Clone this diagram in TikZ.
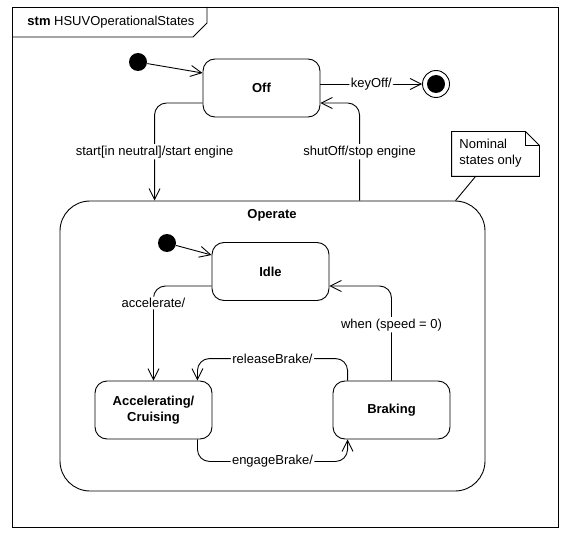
\documentclass[tikz,border=0pt]{standalone}
\usepackage{fontspec}
\setmainfont{Liberation Sans}
\usetikzlibrary{arrows.meta}
\begin{document}
\begin{tikzpicture}[x=1pt,y=-1pt,line width=0.9pt,
  every node/.style={font=\fontsize{13pt}{16pt}\selectfont},
  stbox/.style={draw, rounded corners=12pt, minimum width=117pt, minimum height=58pt,
    font=\fontsize{13pt}{16pt}\selectfont\bfseries, align=center, inner sep=0pt},
  lbl/.style={fill=white, inner sep=1.5pt},
  tr/.style={draw, -{Straight Barb[length=11pt,width=11pt]}, rounded corners=12pt},
  initdot/.style={circle, fill=black, minimum size=18pt, inner sep=0pt}]
\useasboundingbox (0,0) rectangle (567,540);
% frame
\draw (12,7) rectangle (558,527);
\draw (12,37) -- (193,37) -- (207,23) -- (207,7);
\node[anchor=west, inner sep=0pt] (title) at (27,22) {\textbf{stm} HSUVOperationalStates};
% top level
\node[initdot] (init1) at (138,62) {};
\node[stbox] (off) at (261.5,88) {Off};
\node[circle, draw, minimum size=27pt, inner sep=0pt] (final) at (436,84) {};
\fill (final.center) circle (9pt);
\node[draw, rounded corners=30pt, minimum width=425pt, minimum height=290pt, inner sep=0pt] (operate) at (272.5,346) {};
\node[font=\fontsize{13pt}{16pt}\selectfont\bfseries] (operatelbl) at (272,215) {Operate};
% note
\node[minimum width=87pt, minimum height=44pt, inner sep=0pt] (note) at (495.5,154) {};
\draw (note.south west) -- (note.north west) -- ([xshift=-14pt]note.north east)
  -- ([yshift=-14pt]note.north east) -- (note.south east) -- cycle;
\draw ([xshift=-14pt]note.north east) -- ([xshift=-14pt,yshift=-14pt]note.north east)
  -- ([yshift=-14pt]note.north east);
\node[anchor=north west, align=left, inner sep=0pt] (notetxt) at (459,139) {Nominal\\states only};
\draw (note.south west) ++(24pt,0pt) coordinate (nanchor);
\draw (nanchor) -- ([xshift=396pt]operate.north west);
% inner
\node[initdot] (init2) at (167,243) {};
\node[stbox] (idle) at (270.5,271.5) {Idle};
\node[stbox] (acc) at (153.5,410) {Accelerating/\\Cruising};
\node[stbox] (brk) at (391.5,410) {Braking};
% transitions
\draw[tr] (init1) -- ([yshift=15pt]off.west);
\draw[tr] ([yshift=4pt]off.east) -- node[lbl]{keyOff/} (final.west);
\draw[tr] ([yshift=-15pt]off.west) -| node[lbl,pos=0.75]{start[in neutral]/start engine} ([xshift=95pt]operate.north west);
\draw[tr] ([xshift=300pt]operate.north west) |- node[lbl,pos=0.25]{shutOff/stop engine} ([yshift=-15pt]off.east);
\draw[tr] (init2) -- ([yshift=16.5pt]idle.west);
\draw[tr] ([yshift=-14.5pt]idle.west) -| node[lbl,pos=0.59]{accelerate/} (acc.north);
\draw[tr] (brk.north) |- node[lbl,pos=0.295]{when (speed = 0)} ([yshift=-14.5pt]idle.east);
\draw[tr] ([xshift=15pt]brk.north west) -- ++(0pt,22pt) -| node[lbl,pos=0.25]{releaseBrake/} ([xshift=-15pt]acc.north east);
\draw[tr] ([xshift=-15pt]acc.south east) -- ++(0pt,-22pt) -| node[lbl,pos=0.25]{engageBrake/} ([xshift=15pt]brk.south west);
\end{tikzpicture}
\end{document}
